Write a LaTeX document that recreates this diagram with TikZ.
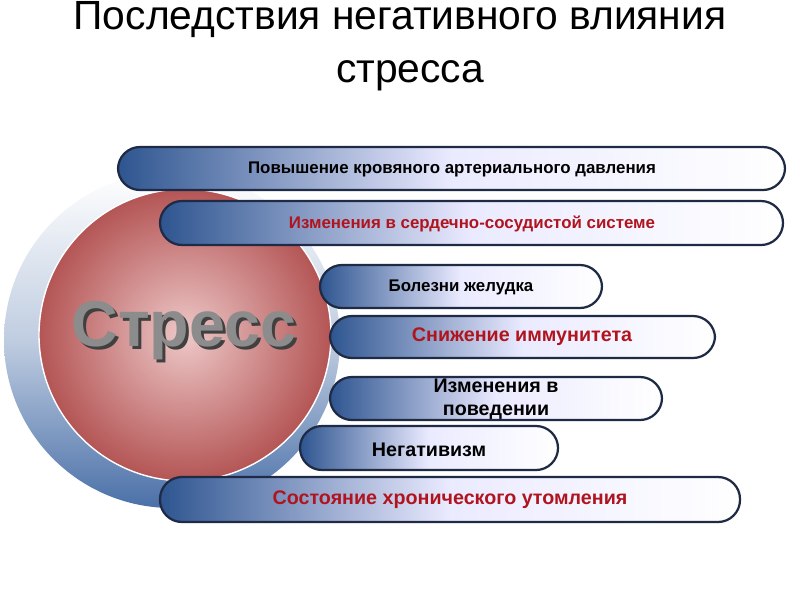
\documentclass[tikz,border=0pt]{standalone}
\usepackage{fontspec}
\setmainfont{Liberation Sans}
\definecolor{barblue}{HTML}{2E5590}
\definecolor{barline}{HTML}{1F2A44}
\definecolor{txtred}{HTML}{B0141E}
\definecolor{ringblue}{HTML}{4A70A8}
\tikzset{
  pill/.style={draw=barline, line width=1.6pt, rounded corners=0.55cm, left color=barblue, right color=white, middle color=blue!8},
  pilltxt/.style={font=\bfseries\fontsize{12}{12}\selectfont, text=black},
  redtxt/.style={font=\bfseries\fontsize{13}{13}\selectfont, text=txtred},
}
\begin{document}
\begin{tikzpicture}[x=0.025cm,y=-0.025cm]
\useasboundingbox (0,0) rectangle (800,600);
\fill[white] (0,0) rectangle (800,600);
\node (t1) at (400,20) {\fontsize{29}{29}\selectfont Последствия негативного влияния};
\node (t2) at (410,76) {\fontsize{29}{29}\selectfont стресса};
% ring
\shade[top color=white, bottom color=ringblue, middle color=ringblue!35] (172,340) circle (168);
\shade[inner color={rgb,255:red,238;green,200;blue,200}, outer color={rgb,255:red,180;green,85;blue,85}, draw=white, line width=1pt] (185,335) circle (146);
\node (s) at (187,334) {\fontsize{46}{46}\selectfont\bfseries\color{black!75}Стресс};
\node (s2) at (184,331) {\fontsize{46}{46}\selectfont\bfseries\color{black!45}Стресс};
% bars
\draw[pill] (118,147) rectangle (785,190);
\node[pilltxt] (b1) at (452,169) {Повышение кровяного артериального давления};
\draw[pill] (160,201) rectangle (783,245);
\node[redtxt,font=\bfseries\fontsize{12}{12}\selectfont] (b2) at (472,224) {Изменения в сердечно-сосудистой системе};
\draw[pill] (320,265) rectangle (602,308);
\node[pilltxt] (b3) at (461,287) {Болезни желудка};
\draw[pill] (330,316) rectangle (715,358);
\node[redtxt,font=\bfseries\fontsize{14}{14}\selectfont] (b4) at (522,337) {Снижение иммунитета};
\draw[pill] (330,377) rectangle (662,420);
\node[pilltxt,font=\bfseries\fontsize{14}{16}\selectfont,align=center] (b5) at (496,399) {Изменения в\\поведении};
\draw[pill] (300,426) rectangle (558,470);
\node[pilltxt,font=\bfseries\fontsize{14}{14}\selectfont] (b6) at (429,450) {Негативизм};
\draw[pill] (160,477) rectangle (740,522);
\node[redtxt,font=\bfseries\fontsize{14}{14}\selectfont] (b7) at (450,500) {Состояние хронического утомления};
\end{tikzpicture}
\end{document}
